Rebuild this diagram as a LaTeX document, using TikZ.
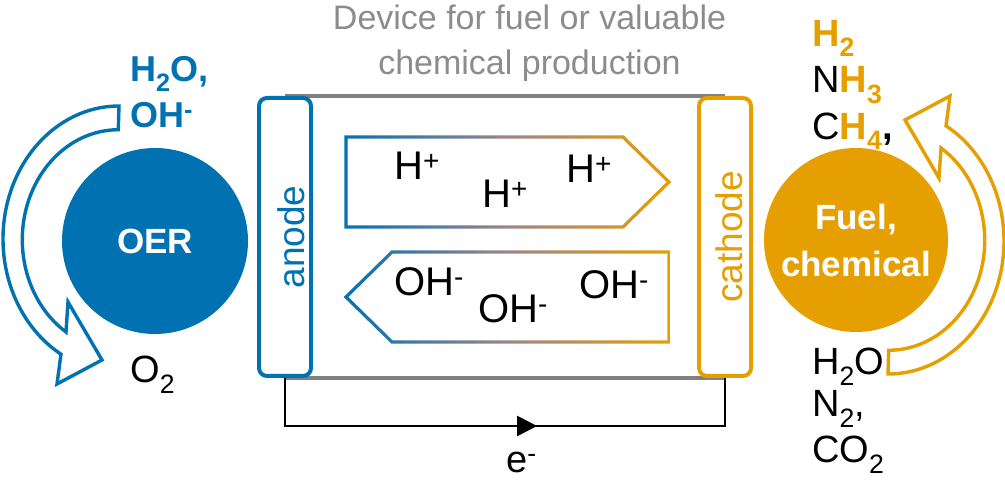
\documentclass[tikz,border=0pt]{standalone}
\usepackage{fontspec}
\setmainfont{Liberation Sans}
\usetikzlibrary{arrows.meta,decorations.markings,backgrounds}
\definecolor{cblue}{HTML}{0072B2}
\definecolor{corange}{HTML}{E69F00}
\definecolor{cmid}{RGB}{158,132,140}
\definecolor{cgray}{HTML}{808080}
\definecolor{ctitle}{HTML}{8C8C8C}
\begin{document}
\begin{tikzpicture}[x=1pt,y=-1pt,
  electrode/.style={draw, line width=4, rounded corners=8, fill=white, inner sep=0,
    minimum width=52, minimum height=278},
  disc/.style={circle, inner sep=0, text=white, font=\bfseries\fontsize{35}{47}\selectfont, align=center},
  lbl/.style={font=\fontsize{38}{38}\selectfont, inner sep=0, anchor=base west},
  ion/.style={font=\fontsize{40}{40}\selectfont, inner sep=0, anchor=base west},
  vlbl/.style={font=\fontsize{37}{37}\selectfont, inner sep=0, rotate=90},
  iongrad/.style={left color=cblue, right color=corange, middle color=cmid, even odd rule},
  bentarrow/.pic={
    \draw[line width=3.4, line join=miter, pic actions]
      (119,106) arc[start angle=270, end angle=120, x radius=116, y radius=133]
      -- (57,384) -- (102,360) -- (68,302) -- (66,332)
      arc[start angle=123, end angle=270, x radius=96, y radius=110] -- cycle;
  }
]
\useasboundingbox (0,0) rectangle (1005,486);

% title
\node[font=\fontsize{34}{45}\selectfont, text=ctitle, align=center] (title) at (529.5,43)
  {Device for fuel or valuable\\chemical production};

% electrodes
\node[electrode, draw=cblue] (anode) at (285,237) {};
\node[electrode, draw=corange] (cathode) at (725,237) {};
\node[vlbl, text=cblue] (anodetxt) at (291,237) {anode};
\node[vlbl, text=corange] (cathodetxt) at (729,237) {cathode};

\begin{scope}[on background layer]
  \draw[cgray, line width=4] (anode.north) -- (cathode.north);
  \draw[cgray, line width=4] (anode.south) -- (cathode.south);
\end{scope}

% ion arrows (gradient outlines)
\def\d{1.6}
\shade[iongrad]
  ({346-\d},{137-\d}) -- ({623+0.41*\d},{137-\d}) -- ({669+1.43*\d},182)
  -- ({623+0.41*\d},{227+\d}) -- ({346-\d},{227+\d}) -- cycle
  ({346+\d},{137+\d}) -- ({623-0.41*\d},{137+\d}) -- ({669-1.43*\d},182)
  -- ({623-0.41*\d},{227-\d}) -- ({346+\d},{227-\d}) -- cycle;
\shade[iongrad]
  ({346-1.43*\d},297) -- ({392-0.41*\d},{252-\d}) -- ({669+\d},{252-\d})
  -- ({669+\d},{342+\d}) -- ({392-0.41*\d},{342+\d}) -- cycle
  ({346+1.43*\d},297) -- ({392+0.41*\d},{252+\d}) -- ({669-\d},{252+\d})
  -- ({669-\d},{342-\d}) -- ({392+0.41*\d},{342-\d}) -- cycle;

\node[ion] (hp1) at (394,180) {H\textsuperscript{+}};
\node[ion] (hp2) at (482,208) {H\textsuperscript{+}};
\node[ion] (hp3) at (566,183) {H\textsuperscript{+}};
\node[ion] (oh1) at (394,296) {OH\textsuperscript{-}};
\node[ion] (oh2) at (478,323) {OH\textsuperscript{-}};
\node[ion] (oh3) at (579,299) {OH\textsuperscript{-}};

% external circuit
\draw[line width=2.8, postaction=decorate,
  decoration={markings, mark=at position 300pt with {\arrow{Triangle[length=20pt,width=20pt]}}}]
  (anode.south) -- ++(0,48) -| (cathode.south);
\node[lbl] (elec) at (506,472) {e\textsuperscript{-}};

% reaction discs
\node[disc, fill=cblue, minimum size=186] (oer) at (155,241) {OER};
\node[disc, fill=corange, minimum size=184] (fuel) at (856,240) {Fuel,\\chemical};

% curved arrows
\pic[cblue] (leftarrow) at (0,0) {bentarrow};
\pic[corange, rotate=180] (rightarrow) at (1007,480) {bentarrow};

% left labels
\node[lbl, text=cblue, font=\bfseries\fontsize{36}{36}\selectfont] (h2oin) at (130,82) {H\textsubscript{2}O,};
\node[lbl, text=cblue, font=\bfseries\fontsize{36}{36}\selectfont] (ohin) at (130,128) {OH\textsuperscript{-}};
\node[lbl] (o2) at (130,383) {O\textsubscript{2}};

% right labels
\node[lbl, text=corange, font=\bfseries\fontsize{38}{38}\selectfont] (h2) at (812,47) {H\textsubscript{2}};
\node[lbl] (nh3) at (812,93) {N{\color{corange}\bfseries H\textsubscript{3}}};
\node[lbl] (ch4) at (812,140) {C{\color{corange}\bfseries H\textsubscript{4}}{\bfseries ,}};
\node[lbl] (h2o) at (812,375) {H\textsubscript{2}O};
\node[lbl] (n2) at (812,417) {N\textsubscript{2},};
\node[lbl] (co2) at (812,463) {CO\textsubscript{2}};
\end{tikzpicture}
\end{document}
